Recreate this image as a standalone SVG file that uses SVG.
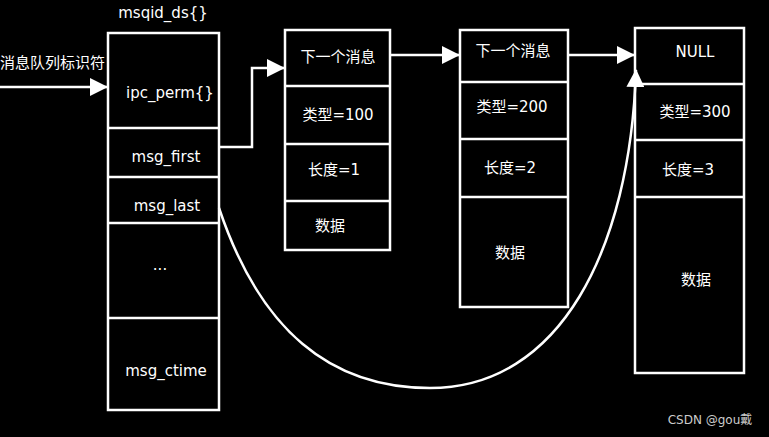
<svg xmlns="http://www.w3.org/2000/svg" width="769" height="437" viewBox="0 0 769 437">
<style>
.b{fill:none;stroke:#fff;stroke-width:2.5}
.c{fill:none;stroke:#fff;stroke-width:2.5}
text{fill:#fff;font-family:"DejaVu Sans","Noto Sans CJK SC",sans-serif;font-size:15px;text-anchor:middle}
</style>
<defs><marker id="a2" markerWidth="18" markerHeight="18" refX="17" refY="9" orient="auto" markerUnits="userSpaceOnUse" viewBox="0 0 18 18"><path d="M0,0L18,9L0,18z" fill="#fff"/></marker></defs>
<rect width="769" height="437" fill="#000"/>
<g id="connectors">
<path class="c" d="M0,87H107" marker-end="url(#a2)"/>
<path class="c" d="M219,147H252V68H284" marker-end="url(#a2)"/>
<path class="c" d="M390,55H459" marker-end="url(#a2)"/>
<path class="c" d="M568,55H634" marker-end="url(#a2)"/>
<path class="c" d="M219,208C260,330 330,388 430,388C560,388 630,250 636,70" marker-end="url(#a2)"/>
</g>
<text x="0" y="68" style="text-anchor:start">消息队列标识符</text>
<g id="msqid"><text x="163" y="18">msqid_ds{}</text>
<rect class="b" x="108" y="33" width="111" height="377"/>
<path class="b" d="M108,128H219M108,177H219M108,223H219M108,318H219"/>
<text x="170" y="98">ipc_perm{}</text><text x="166" y="162">msg_first</text><text x="167" y="211">msg_last</text><text x="160" y="270">...</text><text x="166" y="376">msg_ctime</text></g>
<g id="m1"><rect class="b" x="285" y="30" width="105" height="220"/>
<path class="b" d="M285,86H390M285,144H390M285,201H390"/>
<text x="338" y="62">下一个消息</text><text x="338" y="120">类型=100</text><text x="334" y="175">长度=1</text><text x="330" y="231">数据</text></g>
<g id="m2"><rect class="b" x="460" y="30" width="108" height="277"/>
<path class="b" d="M460,82H568M460,139H568M460,197H568"/>
<text x="513" y="56">下一个消息</text><text x="512" y="112">类型=200</text><text x="510" y="173">长度=2</text><text x="510" y="258">数据</text></g>
<g id="m3"><rect class="b" x="635" y="28" width="109" height="345"/>
<path class="b" d="M635,84H744M635,140H744M635,197H744"/>
<text x="695" y="57">NULL</text><text x="695" y="117">类型=300</text><text x="688" y="175">长度=3</text><text x="696" y="285">数据</text></g>
<text x="710" y="424" style="font-size:12px;fill:#ccc">CSDN @gou戴</text>
</svg>
